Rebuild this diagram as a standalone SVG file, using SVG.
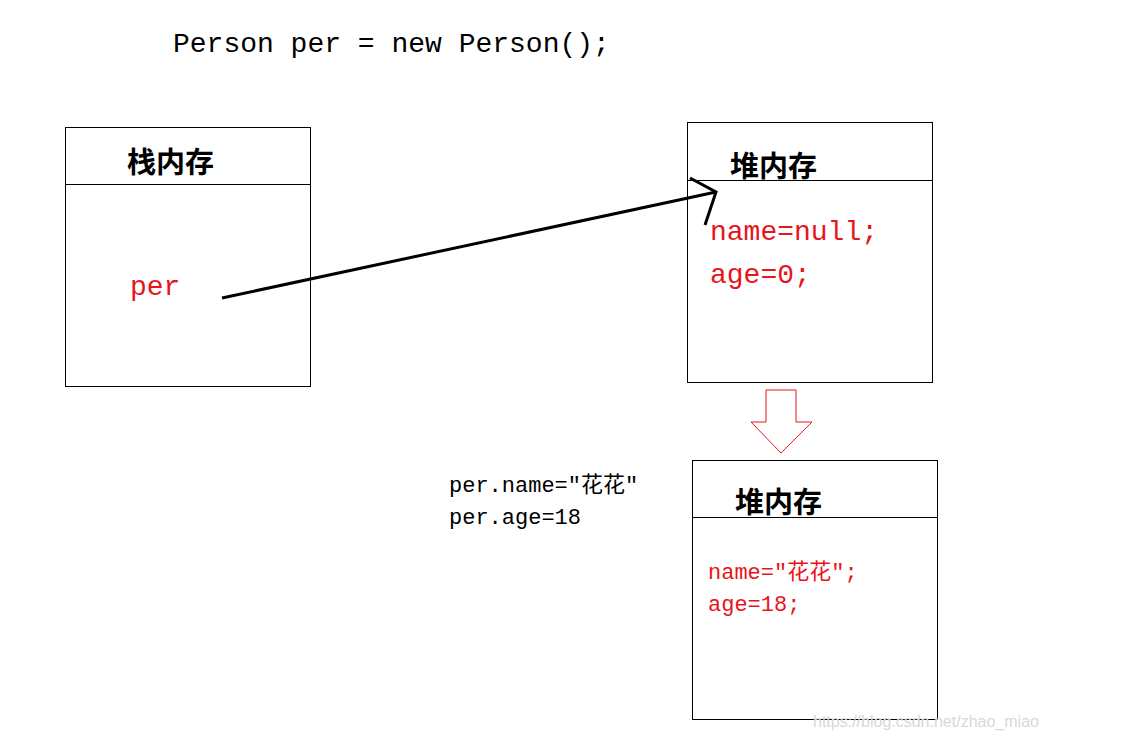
<svg xmlns="http://www.w3.org/2000/svg" width="1135" height="741" viewBox="0 0 1135 741">
<style>
.box{fill:none;stroke:#000;stroke-width:1}
.t{font-family:"Liberation Mono","Noto Sans CJK SC",monospace}
.h{font-family:"Noto Sans CJK SC",sans-serif;font-size:29px;font-weight:bold}
.r{fill:#e8141c}
</style>
<rect width="1135" height="741" fill="#fff"/>
<text class="t" x="173" y="52" font-size="28">Person per = new Person();</text>
<g id="stack">
<rect class="box" x="65.5" y="127.5" width="245" height="259"/>
<line class="box" x1="65" y1="184.5" x2="310" y2="184.5"/>
<text class="h" x="127" y="173">栈内存</text>
<text class="t r" x="130" y="295" font-size="28">per</text>
</g>
<g id="heap1">
<rect class="box" x="687.5" y="122.5" width="245" height="260"/>
<line class="box" x1="687" y1="180.5" x2="932" y2="180.5"/>
<text class="h" x="730" y="177">堆内存</text>
<text class="t r" x="710" y="240" font-size="28">name=null;</text>
<text class="t r" x="710" y="283" font-size="28">age=0;</text>
</g>
<g id="heap2">
<rect class="box" x="692.5" y="460.5" width="245" height="259"/>
<line class="box" x1="692" y1="517.5" x2="937" y2="517.5"/>
<text class="h" x="735" y="513">堆内存</text>
<text class="t r" x="708" y="579" font-size="22">name="花花";</text>
<text class="t r" x="708" y="611" font-size="22">age=18;</text>
</g>
<g id="note">
<text class="t" x="449" y="492" font-size="22">per.name="花花"</text>
<text class="t" x="449" y="524" font-size="22">per.age=18</text>
</g>
<g id="connectors">
<line x1="222" y1="298" x2="716" y2="192" stroke="#000" stroke-width="3"/>
<polyline points="690,178 716,192 705,225" fill="none" stroke="#000" stroke-width="3"/>
<polygon points="766,390 796,390 796,422 812,422 781,453 751,422 766,422" fill="#fff" stroke="#e8141c" stroke-width="1"/>
</g>
<text x="813" y="727" font-family="Liberation Sans,sans-serif" font-size="16" fill="#d8d8d8">https://blog.csdn.net/zhao_miao</text>
</svg>
